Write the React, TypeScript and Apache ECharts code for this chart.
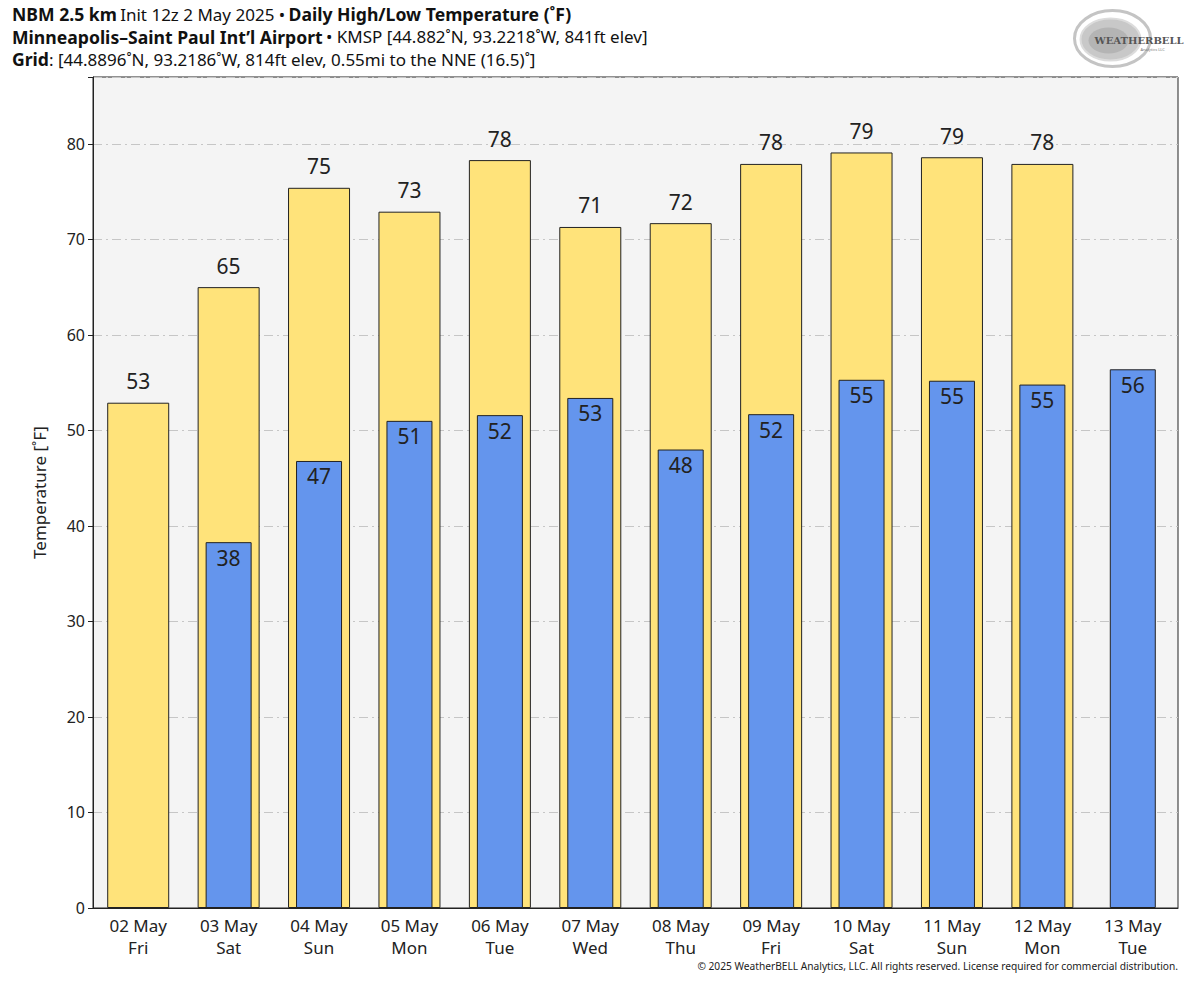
import React, { useEffect, useRef } from "react";
import * as echarts from "echarts";

const dates = ["02 May", "03 May", "04 May", "05 May", "06 May", "07 May", "08 May", "09 May", "10 May", "11 May", "12 May", "13 May"];
const days = ["Fri", "Sat", "Sun", "Mon", "Tue", "Wed", "Thu", "Fri", "Sat", "Sun", "Mon", "Tue"];
const highs: (number | null)[] = [52.9, 65.0, 75.4, 72.9, 78.3, 71.3, 71.7, 77.9, 79.1, 78.6, 77.9, null];
const lows: (number | null)[] = [null, 38.3, 46.8, 51.0, 51.6, 53.4, 48.0, 51.7, 55.3, 55.2, 54.8, 56.4];
const yTicks = [0, 10, 20, 30, 40, 50, 60, 70, 80];

const FONT = "'Noto Sans', 'DejaVu Sans', sans-serif";

export default function App() {
  const ref = useRef<HTMLDivElement>(null);
  useEffect(() => {
    document.body.style.margin = "0";
    const chart = echarts.init(ref.current!, null, { renderer: "svg" });
    const cats = dates.map((d, i) => d + "\n" + days[i]);
    const rich = {
      b: { fontSize: 17.6, fontWeight: "bold", fontFamily: FONT, fill: "#111", lineHeight: 20 },
      n: { fontSize: 17, fontFamily: FONT, fill: "#111", lineHeight: 20 },
    };
    chart.setOption({
      animation: false,
      backgroundColor: "#ffffff",
      textStyle: { fontFamily: FONT },
      grid: {
        left: 93,
        right: 22,
        top: 77,
        bottom: 77,
        show: true,
        backgroundColor: "#f4f4f4",
        borderColor: "#222",
        borderWidth: 1,
        z: 0,
      },
      xAxis: [
        {
          type: "category",
          data: cats,
          axisTick: { show: false },
          axisLine: { lineStyle: { color: "#222", width: 1 } },
          axisLabel: { color: "#222", fontSize: 17, lineHeight: 22, margin: 6, fontFamily: FONT },
        },
        {
          type: "category",
          data: cats,
          show: false,
          position: "bottom",
        },
      ],
      yAxis: {
        type: "value",
        min: 0,
        max: 87,
        interval: 10,
        name: "Temperature [˚F]",
        nameLocation: "middle",
        nameGap: 45,
        nameTextStyle: { color: "#222", fontSize: 17, fontFamily: FONT },
        axisLine: { show: true, lineStyle: { color: "#222" } },
        axisTick: { show: true, length: 5, lineStyle: { color: "#222" } },
        axisLabel: {
          color: "#222",
          fontSize: 16,
          margin: 8,
          formatter: (v: number) => (yTicks.includes(v) ? String(v) : ""),
        },
        splitLine: { show: true, lineStyle: { color: "#c6c6c6", width: 1, type: [9, 4, 2, 4] } },
      },
      series: [
        {
          type: "bar",
          xAxisIndex: 0,
          data: highs,
          barWidth: 62,
          itemStyle: { color: "#ffe37a", borderColor: "#222", borderWidth: 1 },
          label: {
            show: true,
            position: "top",
            distance: 11,
            fontSize: 21,
            color: "#222",
            fontFamily: FONT,
            formatter: (p: any) => String(Math.round(p.value)),
          },
          z: 2,
        },
        {
          type: "bar",
          xAxisIndex: 1,
          data: lows,
          barWidth: 46,
          itemStyle: { color: "#6495ed", borderColor: "#222", borderWidth: 1 },
          label: {
            show: true,
            position: "insideTop",
            distance: 5,
            fontSize: 21,
            color: "#222",
            fontFamily: FONT,
            formatter: (p: any) => String(Math.round(p.value)),
          },
          z: 3,
        },
      ],
      graphic: [
        {
          type: "text",
          left: 12,
          top: 5,
          style: {
            rich,
            text: "{b|NBM 2.5 km} {n|Init 12z 2 May 2025 •} {b|Daily High/Low Temperature (˚F)}",
          },
        },
        {
          type: "text",
          left: 12,
          top: 27.5,
          style: {
            rich,
            text: "{b|Minneapolis–Saint Paul Int’l Airport} {n|• KMSP [44.882˚N, 93.2218˚W, 841ft elev]}",
          },
        },
        {
          type: "text",
          left: 12,
          top: 50,
          style: {
            rich,
            text: "{b|Grid}{n|: [44.8896˚N, 93.2186˚W, 814ft elev, 0.55mi to the NNE (16.5)˚]}",
          },
        },
        {
          type: "group",
          left: 1072,
          top: 8,
          children: [
            { type: "ellipse", shape: { cx: 38, cy: 28, rx: 38, ry: 28 }, style: { fill: "none", stroke: "#c4c4c4", lineWidth: 3 } },
            { type: "ellipse", shape: { cx: 36, cy: 29, rx: 30, ry: 21 }, style: { fill: "#c8c8c8", stroke: "#dcdcdc", lineWidth: 2 } },
            { type: "ellipse", shape: { cx: 34, cy: 30, rx: 20, ry: 13 }, style: { fill: "#b4b4b4" } },
            {
              type: "text",
              x: 20,
              y: 25,
              style: { text: "WEATHERBELL", fontSize: 10, fontWeight: "bold", fontFamily: "'DejaVu Serif', serif", fill: "#555" },
            },
            {
              type: "text",
              x: 66,
              y: 37,
              style: { text: "Analytics LLC", fontSize: 4, fontFamily: FONT, fill: "#777" },
            },
          ],
        },
        {
          type: "text",
          right: 22,
          top: 961,
          style: {
            text: "© 2025 WeatherBELL Analytics, LLC. All rights reserved. License required for commercial distribution.",
            fontSize: 10.2,
            fontFamily: FONT,
            fill: "#222",
          },
        },
      ],
    });
    return () => chart.dispose();
  }, []);
  return <div ref={ref} style={{ width: 1200, height: 985 }} />;
}
